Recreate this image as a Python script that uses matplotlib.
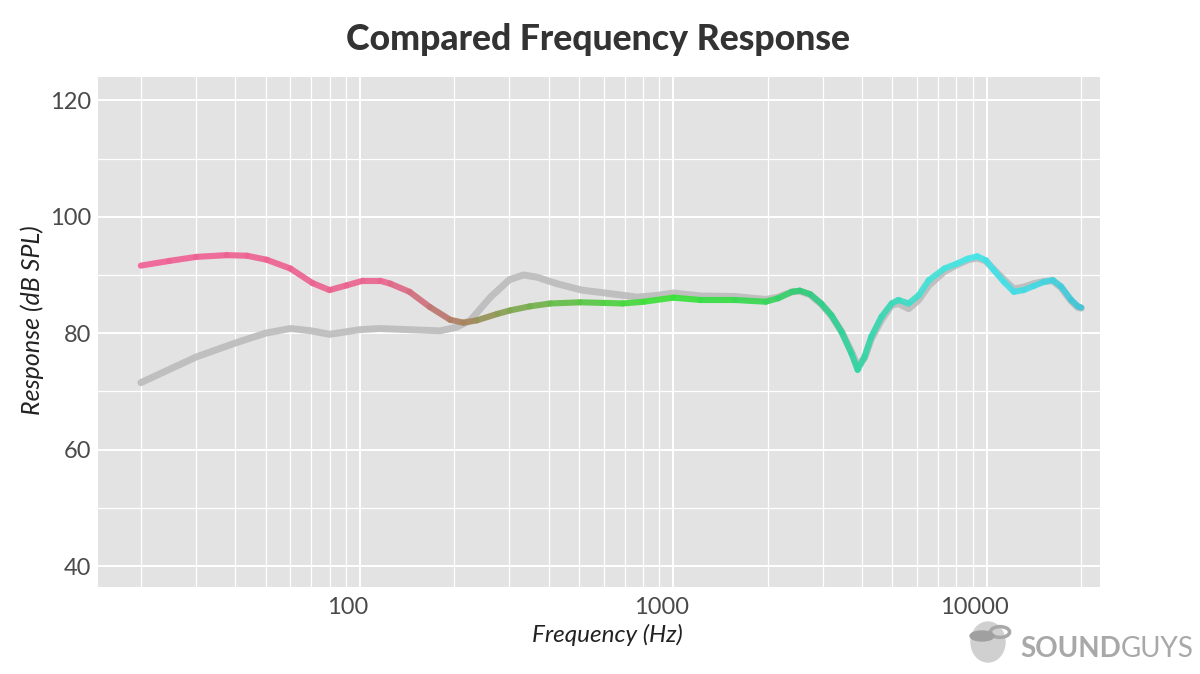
import numpy as np
import matplotlib
matplotlib.use("Agg")
import matplotlib.pyplot as plt
import matplotlib.transforms as mtransforms
from matplotlib.collections import LineCollection
from matplotlib.colors import LinearSegmentedColormap, to_rgb
from matplotlib.patches import Circle, Ellipse

freq_meas = [20, 24.6, 30, 37.6, 43.6, 50.5, 60, 70.6, 80, 90.5, 102, 116, 125,
             144, 167, 194, 214, 236, 274, 301, 348, 405, 504, 597, 690, 804,
             1000, 1220, 1570, 1970, 2160, 2390, 2530, 2730, 2960, 3190, 3440,
             3700, 3870, 4070, 4280, 4610, 4970, 5220, 5630, 6060, 6530, 7320,
             8070, 8700, 9320, 9930, 10540, 11340, 12200, 13100, 14100, 15200,
             16240, 17260, 18580, 19530, 20000]
db_meas = [91.6, 92.4, 93.1, 93.4, 93.3, 92.6, 91.1, 88.6, 87.4, 88.2, 89.0, 89.0, 88.5,
           87.1, 84.5, 82.3, 81.8, 82.2, 83.3, 83.9, 84.6, 85.1, 85.3, 85.2, 85.1, 85.4,
           86.1, 85.7, 85.7, 85.4, 86.0, 87.1, 87.3, 86.7, 85.1, 83.1, 80.2,
           76.5, 73.7, 75.9, 79.4, 82.8, 85.1, 85.7, 85.1, 86.5, 89.1, 91.1,
           92.0, 92.8, 93.2, 92.5, 90.8, 88.8, 87.1, 87.4, 88.1, 88.8,
           89.1, 88.0, 85.7, 84.6, 84.4]

# grey (compared) curve
freq_ref = [20, 30, 40, 50, 60, 70, 80, 100, 116, 144, 180, 203, 225, 261, 300, 333,
            368, 425, 510, 626, 767, 890, 1000, 1220, 1570, 1970, 2160, 2390, 2530,
            2730, 2960, 3190, 3440, 3700, 3870, 4070, 4280, 4610, 4970, 5220, 5630,
            6060, 6530, 7320, 8070, 8700, 9320, 9930, 10540, 11340, 12200, 13100,
            14100, 15200, 16240, 17260, 18580, 19530, 20000]
db_ref = [71.5, 75.9, 78.3, 80.0, 80.8, 80.4, 79.8, 80.6, 80.8, 80.6, 80.4, 81.0, 82.2, 86.2, 89.2, 90.0,
          89.6, 88.5, 87.4, 86.8, 86.2, 86.5, 86.9, 86.4, 86.3, 85.8, 86.2, 87.1, 87.2,
          86.6, 85.0, 83.0, 80.3, 76.8, 74.4, 75.7, 79.0, 82.2, 84.8, 85.1, 84.2,
          85.7, 88.2, 90.6, 91.8, 92.6, 92.9, 92.4, 90.9, 89.2, 87.6, 87.9,
          88.5, 88.9, 89.0, 87.8, 85.5, 84.4, 84.3]

x_ticks = [100, 1000, 10000]
y_ticks = [40, 60, 80, 100, 120]

# colour ramp along the frequency axis
ramp_freq = [20, 120, 170, 220, 300, 500, 900, 1300, 2000, 2700, 3800, 5000, 6500, 9000, 15000, 20000]
ramp_col = ["#f06296", "#ea6690", "#c47476", "#a8845e", "#84a452", "#5cc447", "#3ee23a",
            "#36e040", "#3ad65a", "#34ca80", "#33d4a0", "#3ed8b8", "#45e0d4", "#48e6e8",
            "#46d8e2", "#44c4d6"]

plt.rcParams['font.family'] = ['Lato', 'DejaVu Sans']

fig = plt.figure(figsize=(12, 6.74), dpi=100)
ax = fig.add_axes([98 / 1200, 87 / 674, 1002 / 1200, 510 / 674])
ax.set_facecolor("#e3e3e3")
for s in ax.spines.values():
    s.set_visible(False)

ax.set_xscale("log")
ax.set_xlim(14.6, 22960)
ax.set_ylim(36.4, 124)

ax.set_xticks(x_ticks)
ax.set_xticklabels([str(t) for t in x_ticks])
ax.set_yticks(y_ticks)
ax.set_yticks([50, 70, 90, 110], minor=True)
ax.xaxis.set_minor_locator(matplotlib.ticker.LogLocator(base=10, subs=np.arange(2, 10)))
ax.xaxis.set_minor_formatter(matplotlib.ticker.NullFormatter())
ax.grid(which="major", color="white", linewidth=1.4)
ax.grid(which="minor", color="white", linewidth=0.9)
ax.set_axisbelow(True)
ax.tick_params(which="both", length=0, labelsize=17, labelcolor="#4a4a4a")
ax.tick_params(axis="x", pad=7)
ax.tick_params(axis="y", pad=5)
shift = mtransforms.ScaledTranslation(-12 / 100, 0, fig.dpi_scale_trans)
for lab in ax.get_xticklabels():
    lab.set_transform(lab.get_transform() + shift)

# grey curve
ax.plot(freq_ref, db_ref, color="#bcbcbc", linewidth=5.0, alpha=0.9,
        solid_capstyle="round", solid_joinstyle="round", zorder=2)

# coloured curve, each segment tinted by its frequency
cmap = LinearSegmentedColormap.from_list(
    "fr", list(zip((np.log10(ramp_freq) - np.log10(20)) / (np.log10(20000) - np.log10(20)),
                   [to_rgb(c) for c in ramp_col])))
fm = np.array(freq_meas)
dm = np.array(db_meas)
pts = np.column_stack([fm, dm]).reshape(-1, 1, 2)
segs = np.concatenate([pts[:-1], pts[1:]], axis=1)
mid = np.sqrt(fm[:-1] * fm[1:])
pos = (np.log10(mid) - np.log10(20)) / (np.log10(20000) - np.log10(20))
lc = LineCollection(segs, colors=cmap(pos), linewidths=4.4, alpha=0.93,
                    capstyle="round", joinstyle="round", zorder=3)
ax.add_collection(lc)

ax.set_xlabel("Frequency (Hz)", fontsize=17.5, style="italic", color="#222222")
ax.xaxis.set_label_coords(0.508, -0.072)
ax.set_ylabel("Response (dB SPL)", fontsize=18, style="italic", color="#222222")
ax.yaxis.set_label_coords(-0.054, 0.524)

fig.text(0.4985, 1 - 39 / 674, "Compared Frequency Response", ha="center", va="center",
         fontsize=25.7, fontweight="black", color="#333333")

# SoundGuys logo (text plus rough icon)
t1 = fig.text(1020 / 1200, 1 - 657 / 674, "SOUND", fontsize=20, fontweight="bold",
              color="#a8a8a8", ha="left", va="baseline")
fig.canvas.draw()
ax.annotate("GUYS", xy=(1, 0), xycoords=t1, fontsize=20, color="#a8a8a8",
            ha="left", va="bottom", annotation_clip=False)
fig.add_artist(Ellipse((988 / 1200, 1 - 642 / 674), 34 / 1200, 40 / 674, color="#d0d0d0",
                       transform=fig.transFigure))
fig.add_artist(Circle((1000 / 1200, 1 - 632 / 674), 0.008, fill=False, lw=2.5,
                      edgecolor="#a8a8a8", transform=fig.transFigure))
fig.add_artist(Ellipse((982 / 1200, 1 - 636 / 674), 24 / 1200, 10 / 674, color="#a0a0a0",
                       transform=fig.transFigure))

fig.savefig("out.png", dpi=100)
